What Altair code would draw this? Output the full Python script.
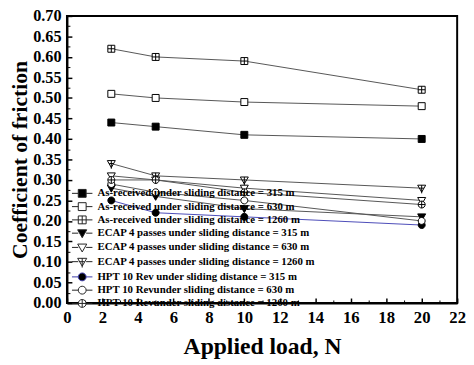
import altair as alt
import pandas as pd

loads = [2.5, 5, 10, 20]
names = [
    "As-received under sliding distance = 315 m",
    "As-received under sliding distance = 630 m",
    "As-received under sliding distance = 1260 m",
    "ECAP 4 passes under sliding distance = 315 m",
    "ECAP 4 passes under sliding distance = 630 m",
    "ECAP 4 passes  under sliding distance = 1260 m",
    "HPT 10 Rev under sliding distance = 315 m",
    "HPT 10 Revunder sliding distance = 630 m",
    "HPT 10 Revunder sliding distance = 1260 m",
]
ar_315 = [0.44, 0.43, 0.41, 0.40]
ar_630 = [0.51, 0.50, 0.49, 0.48]
ar_1260 = [0.62, 0.60, 0.59, 0.52]
ecap_315 = [0.28, 0.26, 0.23, 0.21]
ecap_630 = [0.31, 0.30, 0.28, 0.25]
ecap_1260 = [0.34, 0.31, 0.30, 0.28]
hpt_315 = [0.25, 0.22, 0.21, 0.19]
hpt_630 = [0.29, 0.27, 0.25, 0.20]
hpt_1260 = [0.30, 0.30, 0.27, 0.24]
values = [ar_315, ar_630, ar_1260, ecap_315, ecap_630, ecap_1260, hpt_315, hpt_630, hpt_1260]

x_ticks = [0, 2, 4, 6, 8, 10, 12, 14, 16, 18, 20, 22]
x_minor = [1, 3, 5, 7, 9, 11, 13, 15, 17, 19, 21]
y_ticks = [0.0, 0.05, 0.1, 0.15, 0.2, 0.25, 0.3, 0.35, 0.4, 0.45, 0.5, 0.55, 0.6, 0.65, 0.7]
y_minor = [0.025, 0.075, 0.125, 0.175, 0.225, 0.275, 0.325, 0.375, 0.425, 0.475, 0.525, 0.575, 0.625, 0.675]

rows = []
for n, vals in zip(names, values):
    for x, v in zip(loads, vals):
        rows.append({"series": n, "load": x, "cof": v})
df = pd.DataFrame(rows)

sq = "M-1,-1H1V1H-1Z"
sqp = sq + "M0,-1V1M-1,0H1"
tri = "M-1.15,-0.85H1.15L0,1.15Z"
trip = tri + "M0,-0.85V1.5M-0.6,0H0.6"
cir = "M-1,0A1,1 0 1,0 1,0A1,1 0 1,0 -1,0Z"
cirp = cir + "M0,-1V1M-1,0H1"
plain = [sq, sq, sqp, tri, tri, trip, cir, cir, cirp]
dash = "M-2.6,0H-1M1,0H2.6"
legshapes = [dash + p for p in plain]
fills = ["black", "white", "white", "black", "white", "white", "black", "white", "white"]
linecols = ["#555555"] * 6 + ["#4a4ab8"] + ["#555555"] * 2
legstrokes = ["#222222"] * 6 + ["#3a3aa8"] + ["#222222"] * 2

W, H = 397, 292
xs = alt.Scale(domain=[0, 22], nice=False)
ys = alt.Scale(domain=[0, 0.7], nice=False)

base = alt.Chart(df)

lines = base.mark_line(strokeWidth=1).encode(
    x=alt.X("load:Q", scale=xs, axis=alt.Axis(
        values=x_ticks, format="d", ticks=False, grid=False, domainColor="black",
        domainWidth=2, labelFontSize=17, labelFontWeight="bold", labelColor="black",
        labelPadding=7, title="Applied load, N", titleFontSize=24, titleFontWeight="bold",
        titleColor="black", titlePadding=9, labelFlush=False)),
    y=alt.Y("cof:Q", scale=ys, axis=alt.Axis(
        values=y_ticks, format=".2f", ticks=False, grid=False, domainColor="black",
        domainWidth=2, labelFontSize=16.5, labelFontWeight="bold", labelColor="black",
        labelPadding=6, title="Coefficient of friction", titleFontSize=22,
        titleFontWeight="bold", titleColor="black", titlePadding=1)),
    color=alt.Color("series:N", scale=alt.Scale(domain=names, range=linecols), legend=None),
    detail="series:N",
)

pts = base.mark_point(size=50, strokeWidth=1, opacity=1).encode(
    x=alt.X("load:Q", scale=xs, axis=alt.Axis(
        orient="top", offset=-H, values=x_ticks, labels=False, domain=False, grid=False,
        tickSize=5, tickWidth=1.5, tickColor="black", title=None)),
    y=alt.Y("cof:Q", scale=ys, axis=alt.Axis(
        orient="right", offset=-W, values=y_ticks, labels=False, domain=False, grid=False,
        tickSize=5, tickWidth=1.5, tickColor="black", title=None)),
    shape=alt.Shape("series:N", scale=alt.Scale(domain=names, range=plain), legend=None),
    fill=alt.Fill("series:N", scale=alt.Scale(domain=names, range=fills), legend=None),
    stroke=alt.value("black"),
)

legprops = dict(title=None, orient="none", legendX=10, legendY=175,
                symbolSize=64, symbolStrokeWidth=1, labelOffset=10, rowPadding=0.5,
                labelFontSize=11, labelFontWeight="bold",
                labelColor="black", padding=0, labelLimit=400)

leg = base.transform_filter("datum.load < 0").mark_point(
    size=64, strokeWidth=1, opacity=1
).encode(
    x=alt.X("load:Q", scale=xs, axis=alt.Axis(
        orient="top", offset=-H, values=x_minor, labels=False, domain=False, grid=False,
        tickSize=3, tickWidth=1, tickColor="black", title=None)),
    y=alt.Y("cof:Q", scale=ys, axis=alt.Axis(
        orient="right", offset=-W, values=y_minor, labels=False, domain=False, grid=False,
        tickSize=3, tickWidth=1, tickColor="black", title=None)),
    shape=alt.Shape("series:N", scale=alt.Scale(domain=names, range=legshapes),
                    legend=alt.Legend(**legprops)),
    fill=alt.Fill("series:N", scale=alt.Scale(domain=names, range=fills),
                  legend=alt.Legend(**legprops)),
    stroke=alt.Stroke("series:N", scale=alt.Scale(domain=names, range=legstrokes),
                      legend=alt.Legend(**legprops)),
)

chart = alt.layer(lines, pts, leg).resolve_scale(
    shape="independent", fill="independent", stroke="independent"
).resolve_axis(x="independent", y="independent").properties(
    width=W, height=H,
    autosize=alt.AutoSizeParams(type="none"),
    padding={"left": 60, "top": 5, "right": 9, "bottom": 57},
).configure(font="Liberation Serif").configure_view(
    stroke="black", strokeWidth=2
)

chart.save("out.html", embed_options={"renderer": "svg", "actions": False})
